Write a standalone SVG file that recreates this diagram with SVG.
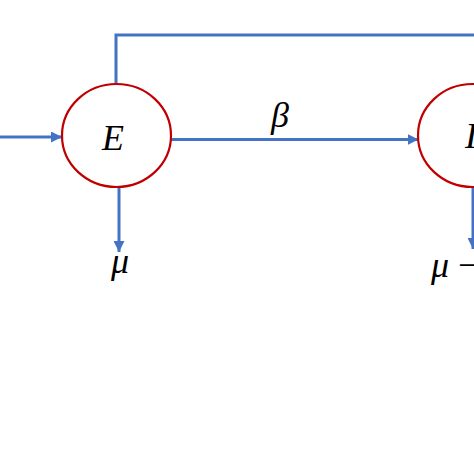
<svg xmlns="http://www.w3.org/2000/svg" width="474" height="474" viewBox="0 0 474 474">
<style>
.edge{fill:none;stroke:#4472C4;stroke-width:3}
.node{fill:#fff;stroke:#C00000;stroke-width:2.2}
.lbl{font-family:"Liberation Serif",serif;font-style:italic;font-size:36px;fill:#000}
.sym{font-family:"Liberation Serif",serif;font-size:36px;fill:#000}
</style>
<defs>
<marker id="ah" viewBox="0 0 10 10" refX="10" refY="5" markerWidth="11" markerHeight="11" markerUnits="userSpaceOnUse" orient="auto">
<path d="M0,0 L10,5 L0,10 Z" fill="#4472C4"/>
</marker>
</defs>
<rect width="474" height="474" fill="#fff"/>
<g id="connectors">
<path class="edge" d="M116,84 V35 H474"/>
<path class="edge" d="M0,137 H62" marker-end="url(#ah)"/>
<path class="edge" d="M171,139.5 H418.5" marker-end="url(#ah)"/>
<path class="edge" d="M119,187 V252" marker-end="url(#ah)"/>
<path class="edge" d="M473,187 V249" marker-end="url(#ah)"/>
<text class="lbl" x="280" y="127" text-anchor="middle">β</text>
<text class="lbl" x="120" y="273" text-anchor="middle">μ</text>
<text class="lbl" x="431" y="277">μ <tspan class="sym" font-style="normal">−</tspan></text>
</g>
<g id="node-E">
<ellipse class="node" cx="116.5" cy="135.5" rx="54.5" ry="51.5"/>
<text class="lbl" x="113" y="150" text-anchor="middle" font-size="38">E</text>
</g>
<g id="node-I">
<ellipse class="node" cx="472.5" cy="135.5" rx="54.5" ry="51.5"/>
<text class="lbl" x="465" y="148" font-size="38">I</text>
</g>
</svg>
